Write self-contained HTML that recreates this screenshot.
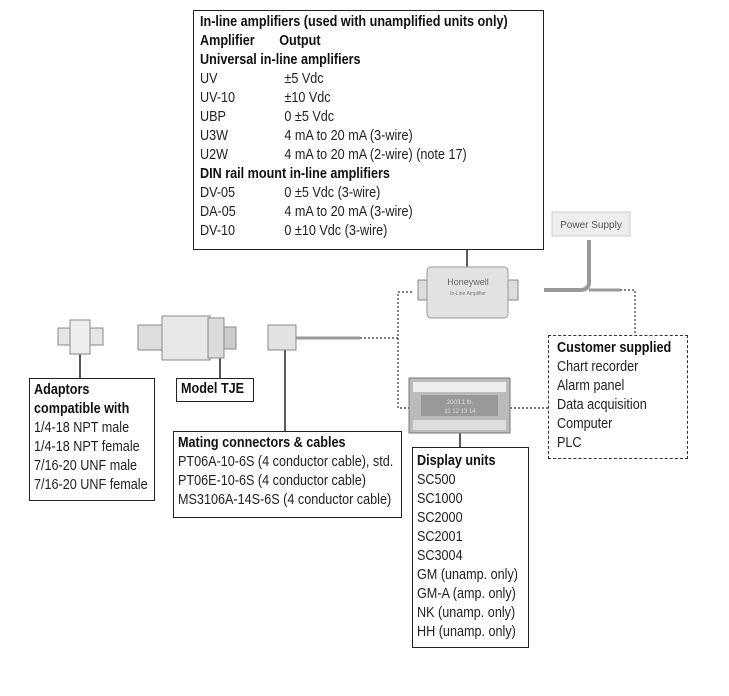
<!DOCTYPE html>
<html><head><meta charset="utf-8"><style>
body{margin:0;background:#fff;width:729px;height:696px;position:relative;overflow:hidden;font-family:"Liberation Sans",sans-serif;color:#222}
.box{position:absolute;border:1.5px solid #222;background:#fff;box-sizing:border-box;font-size:14.5px;line-height:19px}
.t{transform:scaleX(.87);transform-origin:0 0;white-space:nowrap}
.b{font-weight:bold;color:#111}
.r{display:flex}.r span:first-child{width:97px}
svg{position:absolute;left:0;top:0}
</style></head><body>
<svg width="729" height="696">
<g stroke="#222" stroke-width="1.5" fill="none">
<line x1="467" y1="249" x2="467" y2="267"/>
<line x1="80" y1="345" x2="80" y2="378"/>
<line x1="220" y1="355" x2="220" y2="378"/>
<line x1="285" y1="345" x2="285" y2="431"/>
<line x1="460" y1="433" x2="460" y2="447"/>
</g>
<g stroke="#333" stroke-width="1.2" stroke-dasharray="2,2" fill="none">
<polyline points="360,338 398,338 398,292 412,292"/>
<polyline points="398,338 398,408 410,408"/>
<line x1="510" y1="408" x2="548" y2="408"/>
<polyline points="620,290 635,290 635,335"/>
</g>
<rect x="552" y="212" width="78" height="24" fill="#eee" stroke="#ccc"/>
<text x="591" y="228" font-size="10" text-anchor="middle" fill="#555" font-family="Liberation Sans">Power Supply</text>
<path d="M589 240 L589 282 Q589 290 580 290 L544 290" stroke="#999" stroke-width="4" fill="none"/>
<line x1="589" y1="290" x2="620" y2="290" stroke="#999" stroke-width="3"/>
<rect x="418" y="280" width="12" height="20" fill="#ddd" stroke="#888"/>
<rect x="506" y="280" width="12" height="20" fill="#ddd" stroke="#888"/>
<rect x="427" y="267" width="81" height="51" rx="4" fill="#e2e2e2" stroke="#999"/>
<text x="468" y="285" font-size="9" text-anchor="middle" fill="#666" font-family="Liberation Sans">Honeywell</text>
<text x="468" y="295" font-size="5" text-anchor="middle" fill="#777" font-family="Liberation Sans">In-Line Amplifier</text>
<rect x="409" y="378" width="101" height="55" fill="#bbb" stroke="#777"/>
<rect x="413" y="382" width="93" height="10" fill="#eee"/>
<rect x="421" y="395" width="77" height="21" fill="#999"/>
<rect x="413" y="420" width="93" height="10" fill="#ddd"/>
<text x="460" y="404" font-size="6" fill="#ddd" text-anchor="middle">2003.1 lb.</text>
<text x="460" y="413" font-size="6" fill="#ddd" text-anchor="middle">11 12 13 14</text>
<rect x="58" y="328" width="45" height="17" fill="#e5e5e5" stroke="#888"/>
<rect x="70" y="320" width="20" height="34" fill="#eee" stroke="#888"/>
<rect x="138" y="325" width="28" height="25" fill="#ddd" stroke="#888"/>
<rect x="162" y="316" width="48" height="44" fill="#e8e8e8" stroke="#888"/>
<rect x="208" y="318" width="16" height="40" fill="#ddd" stroke="#888"/>
<rect x="224" y="327" width="12" height="22" fill="#ccc" stroke="#888"/>
<rect x="268" y="325" width="28" height="25" fill="#e2e2e2" stroke="#888"/>
<line x1="296" y1="338" x2="360" y2="338" stroke="#999" stroke-width="3"/>
</svg>
<div class="box" style="left:193px;top:10px;width:351px;height:240px;padding:2px 6px"><div class="t">
<div class="b">In-line amplifiers (used with unamplified units only)</div>
<div class="b">Amplifier&nbsp;&nbsp;&nbsp;&nbsp;&nbsp;&nbsp;&nbsp;Output</div>
<div class="b">Universal in-line amplifiers</div>
<div class="r"><span>UV</span><span>±5 Vdc</span></div>
<div class="r"><span>UV-10</span><span>±10 Vdc</span></div>
<div class="r"><span>UBP</span><span>0 ±5 Vdc</span></div>
<div class="r"><span>U3W</span><span>4 mA to 20 mA (3-wire)</span></div>
<div class="r"><span>U2W</span><span>4 mA to 20 mA (2-wire) (note 17)</span></div>
<div class="b">DIN rail mount in-line amplifiers</div>
<div class="r"><span>DV-05</span><span>0 ±5 Vdc (3-wire)</span></div>
<div class="r"><span>DA-05</span><span>4 mA to 20 mA (3-wire)</span></div>
<div class="r"><span>DV-10</span><span>0 ±10 Vdc (3-wire)</span></div>
</div></div>
<div class="box" style="left:29px;top:378px;width:126px;height:123px;padding:2px 4px"><div class="t">
<div class="b">Adaptors<br>compatible with</div>
1/4-18 NPT male<br>1/4-18 NPT female<br>7/16-20 UNF male<br>7/16-20 UNF female</div></div>
<div class="box b" style="left:176px;top:378px;width:78px;height:24px;padding:1px 4px"><div class="t">Model TJE</div></div>
<div class="box" style="left:173px;top:431px;width:229px;height:87px;padding:2px 4px"><div class="t">
<div class="b">Mating connectors &amp; cables</div>
PT06A-10-6S (4 conductor cable), std.<br>PT06E-10-6S (4 conductor cable)<br>MS3106A-14S-6S (4 conductor cable)</div></div>
<div class="box" style="left:412px;top:447px;width:117px;height:201px;padding:4px 4px"><div class="t">
<div class="b">Display units</div>
SC500<br>SC1000<br>SC2000<br>SC2001<br>SC3004<br>GM (unamp. only)<br>GM-A (amp. only)<br>NK (unamp. only)<br>HH (unamp. only)</div></div>
<div class="box" style="left:548px;top:335px;width:140px;height:124px;border:1.5px dashed #333;padding:3px 8px"><div class="t">
<div class="b">Customer supplied</div>
Chart recorder<br>Alarm panel<br>Data acquisition<br>Computer<br>PLC</div></div>
</body></html>
